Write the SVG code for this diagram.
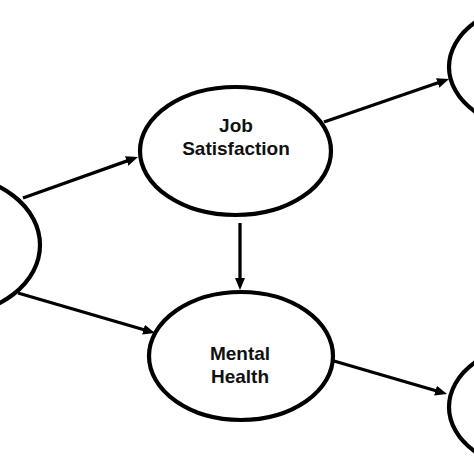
<svg xmlns="http://www.w3.org/2000/svg" width="474" height="474" viewBox="0 0 474 474">
<defs>
<style>
.node{fill:#fff;stroke:#000;stroke-width:4.2}
.lbl{font-family:"Liberation Sans",Arial,sans-serif;font-weight:bold;font-size:19px;fill:#111;text-anchor:middle}
.edge{stroke:#000;stroke-width:3.3;fill:none;marker-end:url(#ah)}
</style>
<marker id="ah" markerUnits="userSpaceOnUse" markerWidth="12" markerHeight="10" refX="5" refY="5" orient="auto">
<path d="M0,0 L12,5 L0,10 z" fill="#000"/>
</marker>
</defs>
<rect width="474" height="474" fill="#fff"/>
<g id="connectors">
<line class="edge" x1="23" y1="198" x2="131.4" y2="159.4"/>
<line class="edge" x1="18" y1="293" x2="148.3" y2="331"/>
<line class="edge" x1="324" y1="122" x2="442.4" y2="81.3"/>
<line class="edge" x1="334" y1="361" x2="440.3" y2="392"/>
<line class="edge" x1="240" y1="223" x2="240" y2="283"/>
</g>
<g id="node-left"><ellipse class="node" cx="-52" cy="245" rx="92" ry="70"/></g>
<g id="node-job"><ellipse class="node" cx="235.5" cy="151" rx="95.5" ry="64"/>
<text class="lbl" x="236" y="132">Job</text><text class="lbl" x="236" y="155">Satisfaction</text></g>
<g id="node-mental"><ellipse class="node" cx="241" cy="356" rx="92" ry="64"/>
<text class="lbl" x="240" y="360">Mental</text><text class="lbl" x="240" y="383">Health</text></g>
<g id="node-topright"><ellipse class="node" cx="541" cy="67" rx="92" ry="64"/></g>
<g id="node-bottomright"><ellipse class="node" cx="541" cy="407" rx="92" ry="64"/></g>
</svg>
